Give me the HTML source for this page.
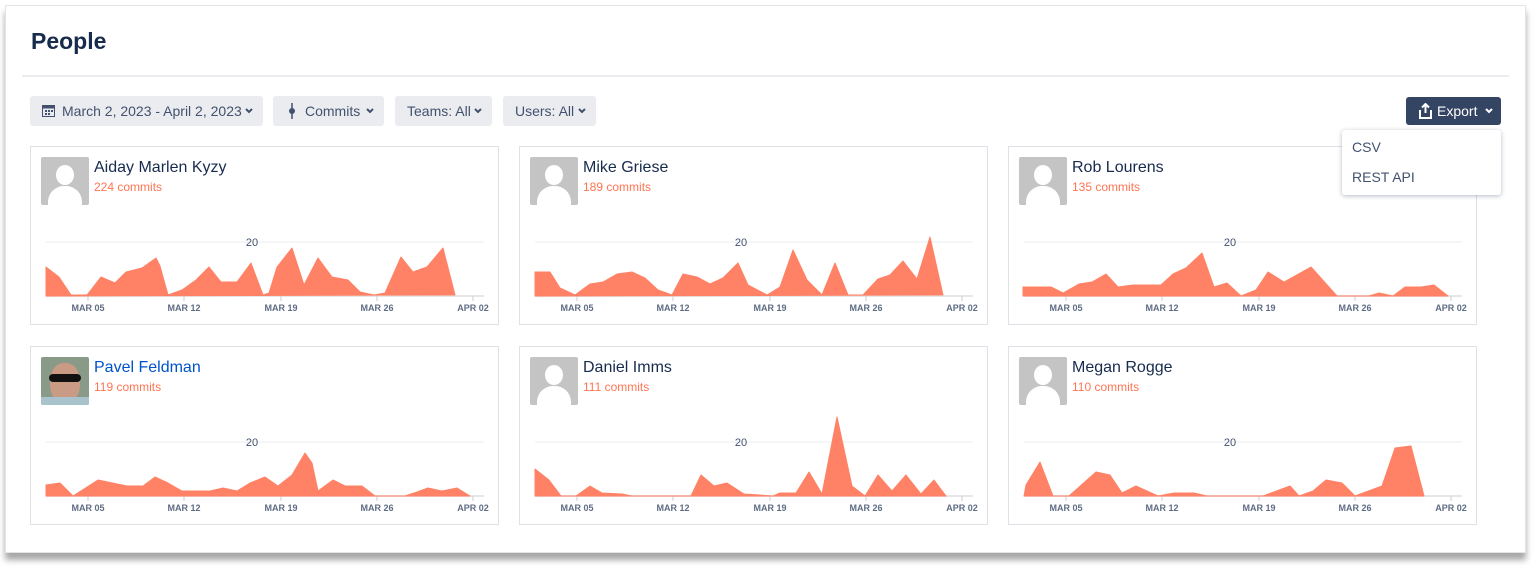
<!DOCTYPE html>
<html><head><meta charset="utf-8"><style>
*{box-sizing:border-box;margin:0;padding:0}
body{width:1536px;height:576px;background:#fff;font-family:"Liberation Sans",sans-serif;position:relative;overflow:hidden}
.panel{position:absolute;left:5px;top:5px;width:1521px;height:548px;background:#fff;border:1px solid #e4e4e4;box-shadow:0 7px 6px rgba(0,0,0,.35)}
.title{position:absolute;left:31px;top:28px;font-size:23px;color:#172b4d;font-weight:bold}
.sep{position:absolute;left:22px;top:75px;width:1487px;height:2px;background:#ebecf0}
.btn{position:absolute;top:96px;height:30px;background:#ebecf0;border-radius:3px;color:#42526e;font-size:14px;line-height:30px;padding-left:12px}
.ch{position:absolute;right:10px;top:12px}
.card{position:absolute;width:469px;height:179px;border:1px solid #dfe1e6;background:#fff}
.av{position:absolute;left:10px;top:10px;width:48px;height:48px;background:#c4c4c4;border-radius:2px;overflow:hidden}
.av .h{position:absolute;left:15px;top:8px;width:18px;height:20px;border-radius:50%;background:#fff}
.av .b{position:absolute;left:7px;top:29px;width:34px;height:30px;border-radius:16px 16px 0 0;background:#fff}
.nm{position:absolute;left:63px;top:12px;font-size:16px;color:#172b4d}
.cm{position:absolute;left:63px;top:33px;font-size:12px;color:#ff7452}
.exp{position:absolute;left:1406px;top:97px;width:95px;height:28px;background:#344563;border-radius:3px;color:#fff;font-size:14px;line-height:28px;padding-left:31px}
.dd{position:absolute;left:1342px;top:130px;width:159px;height:65px;background:#fff;border-radius:3px;box-shadow:0 1px 5px rgba(9,30,66,.3);font-size:14px;color:#42526e;z-index:5}
</style></head><body>
<div class="panel"></div>
<div class="title">People</div>
<div class="sep"></div>
<div class="btn" style="left:30px;width:233px;padding-left:32px"><svg style="position:absolute;left:12px;top:8px" width="13" height="13" viewBox="0 0 13 13"><rect x="0.5" y="1.5" width="12" height="11" fill="none" stroke="#42526e"/><rect x="0.5" y="1.5" width="12" height="3" fill="#42526e"/><g fill="#42526e"><rect x="3" y="6" width="2" height="2"/><rect x="6" y="6" width="2" height="2"/><rect x="9" y="6" width="2" height="2"/><rect x="3" y="9" width="2" height="2"/><rect x="6" y="9" width="2" height="2"/></g></svg>March 2, 2023 - April 2, 2023<svg class="ch" width="8" height="6"><path d="M1 1 L4 4 L7 1" stroke="#42526e" stroke-width="2" fill="none"/></svg></div>
<div class="btn" style="left:273px;width:111px;padding-left:32px"><svg style="position:absolute;left:15px;top:7px" width="8" height="16"><line x1="4" y1="0" x2="4" y2="16" stroke="#42526e" stroke-width="1.5"/><circle cx="4" cy="8" r="3" fill="#42526e"/></svg>Commits<svg class="ch" width="8" height="6"><path d="M1 1 L4 4 L7 1" stroke="#42526e" stroke-width="2" fill="none"/></svg></div>
<div class="btn" style="left:395px;width:97px">Teams: All<svg class="ch" width="8" height="6"><path d="M1 1 L4 4 L7 1" stroke="#42526e" stroke-width="2" fill="none"/></svg></div>
<div class="btn" style="left:503px;width:93px">Users: All<svg class="ch" width="8" height="6"><path d="M1 1 L4 4 L7 1" stroke="#42526e" stroke-width="2" fill="none"/></svg></div>
<div class="exp"><svg style="position:absolute;left:13px;top:6px" width="13" height="16"><path d="M6.5 1 L6.5 10 M3 4.5 L6.5 1 L10 4.5" stroke="#fff" stroke-width="2" fill="none"/><path d="M1 7 L1 15 L12 15 L12 7" stroke="#fff" stroke-width="2" fill="none"/></svg>Export<svg style="position:absolute;right:8px;top:11px" width="8" height="6"><path d="M1 1 L4 4 L7 1" stroke="#fff" stroke-width="2" fill="none"/></svg></div>

<div class="card" style="left:30px;top:146px"><div class="av"><div class="h"></div><div class="b"></div></div><div class="nm">Aiday Marlen Kyzy</div><div class="cm">224 commits</div></div>
<div class="card" style="left:519px;top:146px"><div class="av"><div class="h"></div><div class="b"></div></div><div class="nm">Mike Griese</div><div class="cm">189 commits</div></div>
<div class="card" style="left:1008px;top:146px"><div class="av"><div class="h"></div><div class="b"></div></div><div class="nm">Rob Lourens</div><div class="cm">135 commits</div></div>
<div class="card" style="left:30px;top:346px"><div class="av" style="background:#8a9a88"><div style="position:absolute;left:9px;top:6px;width:30px;height:40px;border-radius:45%;background:#c99b84"></div><div style="position:absolute;left:8px;top:17px;width:32px;height:8px;border-radius:4px;background:#111"></div><div style="position:absolute;left:0;top:40px;width:48px;height:10px;background:#a9c3cc"></div></div><div class="nm" style="color:#0052cc">Pavel Feldman</div><div class="cm">119 commits</div></div>
<div class="card" style="left:519px;top:346px"><div class="av"><div class="h"></div><div class="b"></div></div><div class="nm">Daniel Imms</div><div class="cm">111 commits</div></div>
<div class="card" style="left:1008px;top:346px"><div class="av"><div class="h"></div><div class="b"></div></div><div class="nm">Megan Rogge</div><div class="cm">110 commits</div></div>

<svg style="position:absolute;left:0;top:0" width="1536" height="576">
<defs>
<g id="ax">
<line x1="16" y1="96" x2="454" y2="96" stroke="#ebecf0" stroke-width="1"/>
<line x1="16" y1="150" x2="454" y2="150" stroke="#e6e6e6" stroke-width="2"/>
<g stroke="#ccc"><line x1="58" y1="150" x2="58" y2="155"/><line x1="154" y1="150" x2="154" y2="155"/><line x1="251" y1="150" x2="251" y2="155"/><line x1="347" y1="150" x2="347" y2="155"/><line x1="443" y1="150" x2="443" y2="155"/></g>
<g font-family="Liberation Sans, sans-serif" font-size="9" font-weight="bold" fill="#5e6c84" stroke="none" text-anchor="middle"><text x="58" y="165">MAR 05</text><text x="154" y="165">MAR 12</text><text x="251" y="165">MAR 19</text><text x="347" y="165">MAR 26</text><text x="443" y="165">APR 02</text></g>
<text x="222" y="100" font-family="Liberation Sans, sans-serif" font-size="11" fill="#42526e" stroke="none" text-anchor="middle">20</text>
</g>
</defs>
<g fill="none" stroke="none">
<use href="#ax" transform="translate(30,146)"/>
<use href="#ax" transform="translate(519,146)"/>
<use href="#ax" transform="translate(1008,146)"/>
<use href="#ax" transform="translate(30,346)"/>
<use href="#ax" transform="translate(519,346)"/>
<use href="#ax" transform="translate(1008,346)"/>
</g>
<g fill="#ff8266" stroke="#ff8266" stroke-linejoin="round">
<g transform="translate(30,146)"><polygon points="16,150 16,121 29,131 41,149 57,149 71,131 85,137 96,126 112,122 126,112 130,120 138,149 152,144 166,134 179,121 191,136 207,136 221,117 233,149 239,147 247,121 262,102 274,139 288,112 302,131 318,134 330,146 344,149 355,147 371,111 383,126 397,121 413,102 425,149"/></g>
<g transform="translate(519,146)"><polygon points="16,150 16,126 31,126 41,142 56,149 71,138 84,136 98,128 113,126 126,132 139,144 153,149 164,128 178,131 191,138 204,132 219,117 229,139 248,149 261,141 274,104 288,134 303,149 316,117 329,149 344,149 359,133 371,129 384,115 398,133 411,91 424,149"/></g>
<g transform="translate(1008,146)"><polygon points="15,150 15,141 43,141 55,147 71,138 84,136 98,128 110,141 125,139 153,139 165,128 178,122 194,107 206,141 219,137 233,150 248,144 260,126 276,136 303,121 329,150 361,150 371,147 385,150 397,141 413,141 426,139 440,150"/></g>
<g transform="translate(30,346)"><polygon points="16,150 16,139 30,137 43,150 68,134 97,140 113,140 125,131 138,137 152,145 180,145 193,142 207,145 220,137 235,131 248,140 262,129 275,107 282,117 288,145 303,134 315,140 332,140 345,150 375,150 387,146 398,142 412,145 427,142 440,150"/></g>
<g transform="translate(519,346)"><polygon points="16,150 16,123 30,134 42,150 57,150 71,140 83,147 103,148 113,150 172,150 182,129 195,140 208,137 225,148 254,150 261,147 277,147 290,126 303,148 318,71 333,140 346,150 359,129 373,145 387,129 402,148 415,134 427,150"/></g>
<g transform="translate(1008,346)"><polygon points="16,150 18,139 32,116 45,150 61,150 88,126 102,129 114,147 128,140 150,150 166,147 186,147 199,150 255,150 282,140 291,150 305,145 318,134 334,137 347,150 374,140 387,102 403,100 416,150"/></g>
</g>
</svg>
<div class="dd"><div style="position:absolute;left:10px;top:9px">CSV</div><div style="position:absolute;left:10px;top:39px">REST API</div></div>
</body></html>
